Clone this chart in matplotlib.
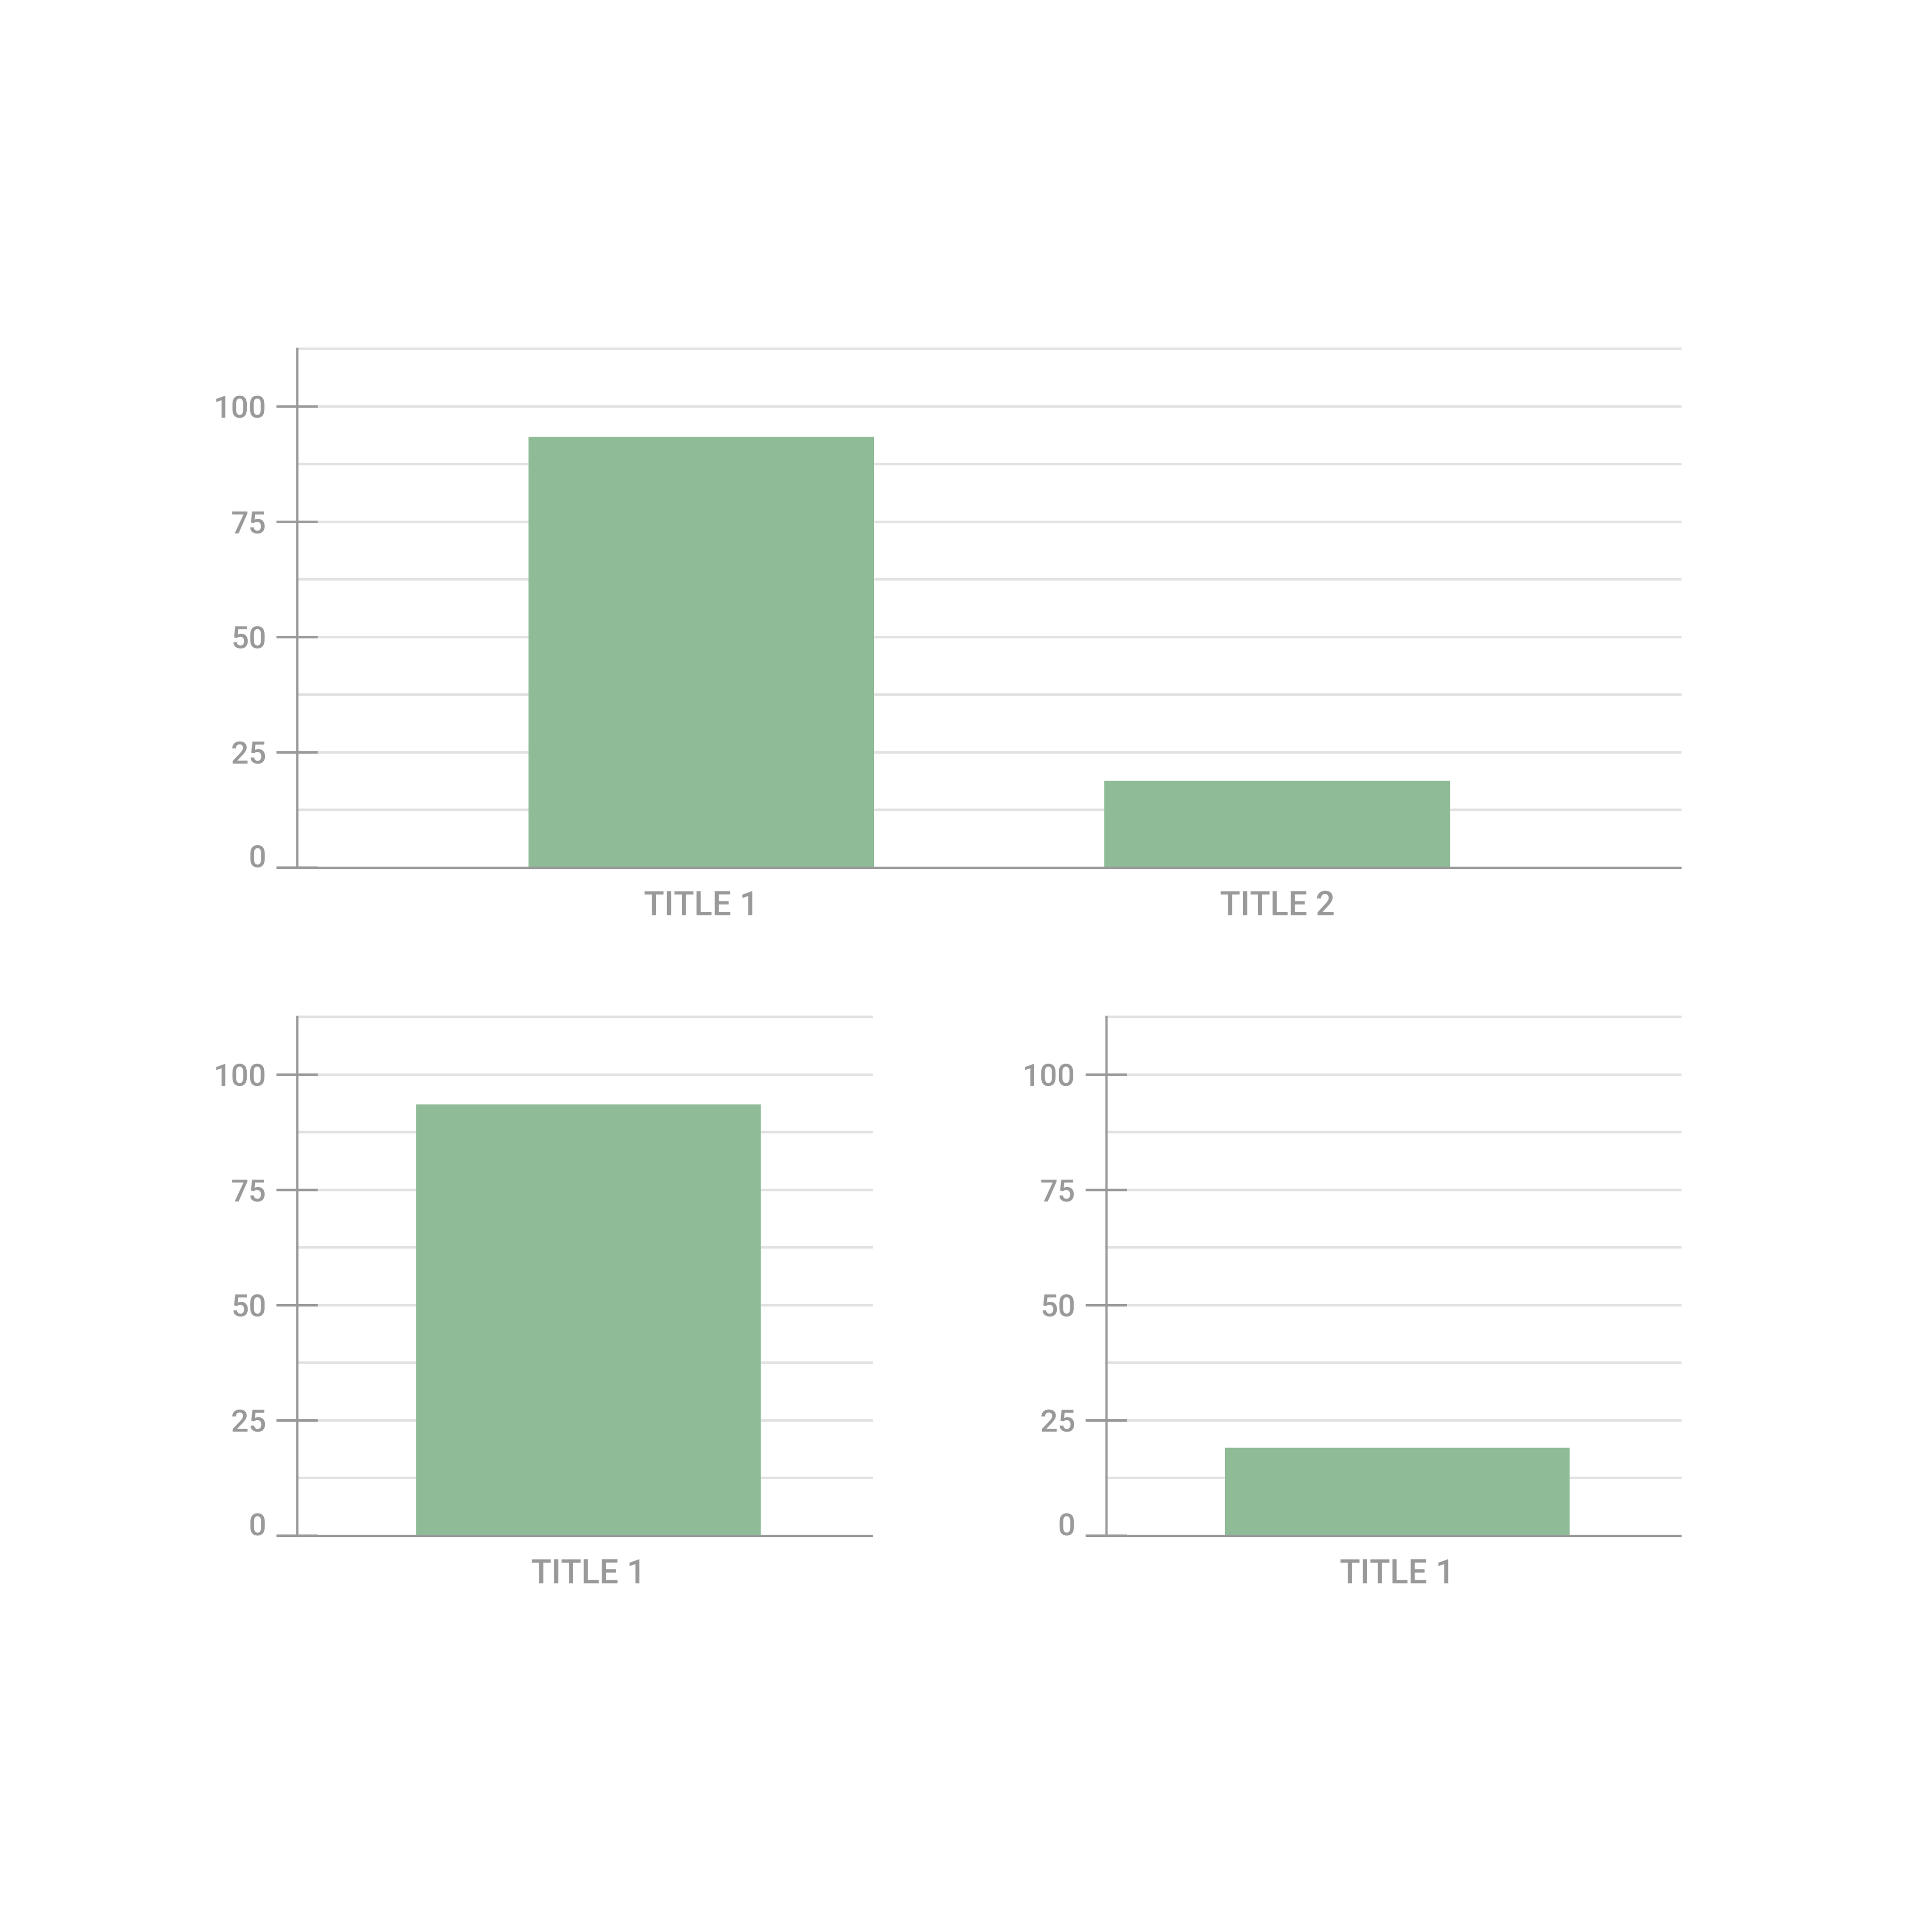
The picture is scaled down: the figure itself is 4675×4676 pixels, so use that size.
import numpy as np
import matplotlib.pyplot as plt
from matplotlib.ticker import MultipleLocator

# data
top_labels = ['TITLE 1', 'TITLE 2']
top_values = [93.4, 18.8]
left_labels = ['TITLE 1']
left_values = [93.5]
right_labels = ['TITLE 1']
right_values = [19.1]

y_max = 112.5
y_ticks = [0, 25, 50, 75, 100]

bar_color = '#8fbb96'
axis_color = '#999999'
grid_color = '#e2e2e2'
text_color = '#999999'

plt.rcParams['font.family'] = ['Roboto', 'DejaVu Sans']


def style_axes(ax, labels, values, xlim):
    x = np.arange(len(labels))
    ax.bar(x, values, width=0.6, color=bar_color, zorder=2)
    ax.set_xlim(*xlim)
    ax.set_ylim(0, y_max)

    # grid every 12.5, drawn unclipped so the top line keeps its full width
    for y in np.arange(12.5, y_max + 0.1, 12.5):
        ax.axhline(y, color=grid_color, lw=1.45, zorder=0, clip_on=False)

    for side in ['top', 'right']:
        ax.spines[side].set_visible(False)
    for side in ['left', 'bottom']:
        ax.spines[side].set_color(axis_color)
        ax.spines[side].set_linewidth(1.3)
        ax.spines[side].set_zorder(3)

    ax.set_yticks(y_ticks)
    ax.yaxis.set_minor_locator(MultipleLocator(12.5))
    ax.tick_params(axis='y', which='major', direction='inout', length=24,
                   width=1.45, color=axis_color, labelcolor=text_color,
                   labelsize=18, pad=6)
    ax.tick_params(axis='y', which='minor', length=0)
    for lab in ax.get_yticklabels():
        lab.set_fontweight('medium')
    ax.get_yticklabels()[0].set_verticalalignment('baseline')

    ax.set_xticks(x)
    ax.set_xticklabels(labels)
    ax.tick_params(axis='x', length=0, labelcolor=text_color,
                   labelsize=19.5, pad=13)
    for lab in ax.get_xticklabels():
        lab.set_fontweight('medium')


fig = plt.figure(figsize=(4675 / 300, 4676 / 300), dpi=300)
fig.patch.set_facecolor('white')

ax_top = fig.add_axes([0.1538, 0.5509, 0.7159, 0.2686])
ax_left = fig.add_axes([0.1538, 0.2051, 0.2973, 0.2686])
ax_right = fig.add_axes([0.5726, 0.2051, 0.2971, 0.2686])

style_axes(ax_top, top_labels, top_values, (-0.702, 1.70))
style_axes(ax_left, left_labels, left_values, (-0.507, 0.493))
style_axes(ax_right, right_labels, right_values, (-0.507, 0.493))

fig.savefig('out.png', dpi=300, facecolor='white')
